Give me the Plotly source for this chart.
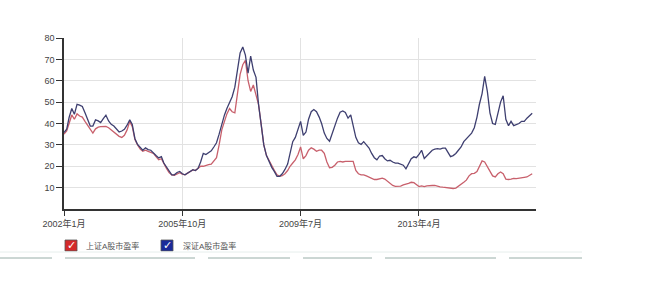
import pandas as pd
import plotly.graph_objects as go

# Shenzhen A-share PE (blue), monthly from 2002-01
sz_pe = [
    35.8, 37.3, 42.8, 47.0, 44.3, 49.0, 48.6, 48.0, 45.0, 42.0, 38.8, 38.8,
    41.7, 41.2, 40.4, 42.3, 43.9, 41.2, 39.6, 38.8, 37.3, 36.0, 36.5, 37.3,
    39.2, 41.7, 39.6, 32.9, 30.2, 28.6, 27.5, 28.6, 27.8, 27.5, 26.0, 25.0,
    23.9, 24.5, 21.5, 19.7, 17.6, 16.0, 16.0, 17.1, 17.6, 16.5, 16.0, 16.8,
    17.6, 18.4, 18.0, 19.0, 22.0, 26.0, 25.5, 26.3, 27.2, 29.0, 31.0, 35.0,
    40.0, 44.0, 47.0, 50.0, 52.5, 57.0, 66.0, 73.0, 75.8, 72.0, 63.5, 71.5,
    65.0, 61.6, 49.0, 39.0, 30.0, 25.0, 22.0, 19.5, 17.5, 15.3, 15.3, 16.5,
    18.5, 21.0, 26.0, 31.5, 33.5, 37.0, 41.0, 34.5, 36.0, 42.0, 45.5, 46.5,
    45.5, 43.0, 40.0, 35.5, 33.0, 31.7, 35.5, 39.0, 42.5, 45.3, 45.9, 45.2,
    42.5, 44.0, 39.0, 33.5, 31.0, 30.2, 31.5, 30.0, 28.5, 26.0, 24.0, 23.0,
    24.8, 25.0, 23.5, 22.5, 22.8, 22.0, 21.5, 21.5, 20.8, 20.5, 18.8, 21.0,
    23.5, 24.4, 24.0, 25.5, 27.5, 23.6, 25.0, 26.5, 27.5, 28.0, 28.2, 28.0,
    28.5, 28.5, 26.5, 24.5, 25.0, 26.0, 27.5, 29.0, 31.5, 33.0, 34.0, 35.5,
    38.0, 43.0, 49.0, 54.0, 62.0, 55.0, 45.0, 40.0, 39.6, 45.0, 50.0, 53.0,
    42.0, 39.0, 41.0, 39.0, 39.5, 40.0, 41.0, 41.0, 42.5, 43.5, 44.8,
]

# Shanghai A-share PE (red), monthly from 2002-01
sh_pe = [
    35.0, 36.5, 40.0, 44.0, 42.0, 44.5, 43.5, 43.0, 41.0, 39.0, 37.0, 35.5,
    37.5, 38.3, 38.5, 38.5, 38.6, 38.0, 37.0, 36.0, 35.0, 34.0, 33.5, 34.5,
    37.0, 41.0, 38.5, 32.5, 30.0, 28.0, 27.0, 27.5, 27.0, 26.5, 26.0, 24.5,
    23.0, 23.5, 21.0, 19.0, 17.0, 16.0, 15.8, 16.5, 17.0, 16.3, 16.0, 16.8,
    17.6, 18.3, 18.0, 19.0, 20.0, 20.0, 20.5, 20.8, 21.0, 22.5, 24.0, 30.0,
    37.0, 41.0, 44.5, 47.0, 45.5, 45.0, 55.0, 63.0, 67.5, 69.5, 60.0, 55.0,
    58.0, 53.0, 49.0, 39.6, 30.0, 25.0, 22.5, 20.0, 18.0, 16.0, 15.3, 15.6,
    16.5, 18.0, 20.0, 21.5, 23.0, 25.5, 29.0, 23.5, 25.0, 27.5, 28.6, 28.0,
    27.0, 27.5, 27.5, 26.0, 22.0, 19.3, 19.5, 20.5, 22.0, 22.3, 22.0, 22.3,
    22.3, 22.3, 22.3, 18.0, 16.5, 16.0, 16.0, 15.5, 15.0, 14.4, 13.8, 13.8,
    14.2, 14.4, 14.0, 13.0, 11.8, 11.0, 10.6, 10.6, 10.7, 11.3, 11.5, 12.0,
    12.5, 12.3, 11.5, 10.5, 10.8, 10.5, 10.8, 11.0, 11.0, 11.0, 10.6, 10.4,
    10.2, 10.0, 9.8, 9.7, 9.6, 9.8, 10.6, 11.5, 12.5, 13.5, 15.5, 16.5,
    16.7, 17.5, 20.0, 22.5, 22.0, 20.0, 17.5, 15.5, 15.0, 16.5, 17.3, 16.5,
    14.0, 13.8, 14.0, 14.3, 14.2, 14.5, 14.5, 14.8, 15.0, 15.8, 16.5,
]

dates = pd.date_range("2002-01-01", periods=len(sz_pe), freq="MS")
series_names = ["上证A股市盈率", "深证A股市盈率"]
x_tick_dates = ["2002-01-01", "2005-10-01", "2009-07-01", "2013-04-01"]
x_tick_text = ["2002年1月", "2005年10月", "2009年7月", "2013年4月"]
y_ticks = [10, 20, 30, 40, 50, 60, 70, 80]

RED = "#c8606c"
BLUE = "#3e3f70"
FONT = "Liberation Sans, Noto Sans CJK SC, sans-serif"

fig = go.Figure()
fig.add_trace(go.Scatter(x=dates, y=sh_pe, mode="lines", name=series_names[0],
                         line=dict(color=RED, width=1.3)))
fig.add_trace(go.Scatter(x=dates, y=sz_pe, mode="lines", name=series_names[1],
                         line=dict(color=BLUE, width=1.3)))

L, R, T, B = 64, 124, 38, 90
W, H = 660, 299
PW, PH = W - L - R, H - T - B

def px(x):
    return (x - L) / PW

def py(y):
    return (H - B - y) / PH

shapes = []
annotations = []
# legend boxes
for (x0, x1, col, label, tx) in [(65, 77, "#d42a2a", series_names[0], 84),
                                  (161, 173, "#1a2a9a", series_names[1], 181)]:
    shapes.append(dict(type="rect", xref="paper", yref="paper",
                       x0=px(x0), x1=px(x1), y0=py(251), y1=py(240),
                       fillcolor=col, line=dict(color="#555", width=0.8)))
    annotations.append(dict(xref="paper", yref="paper", x=px((x0 + x1) / 2), y=py(245.5),
                            text="✓", showarrow=False, xanchor="center", yanchor="middle",
                            font=dict(family="DejaVu Sans", size=11, color="white")))
    annotations.append(dict(xref="paper", yref="paper", x=px(tx), y=py(246),
                            text=label, showarrow=False, xanchor="left", yanchor="middle",
                            font=dict(family=FONT, size=8, color="#555")))

# decorative bottom separator lines
shapes.append(dict(type="line", xref="paper", yref="paper", x0=px(0), x1=px(582),
                   y0=py(252), y1=py(252), line=dict(color="#e6eeec", width=1)))
for a, b in [(0, 52), (65, 195), (208, 290), (303, 372), (385, 496), (509, 582)]:
    shapes.append(dict(type="line", xref="paper", yref="paper", x0=px(a), x1=px(b),
                       y0=py(258), y1=py(258), line=dict(color="#98aea8", width=1)))

fig.update_layout(
    width=W, height=H,
    margin=dict(l=L, r=R, t=T, b=B, pad=0),
    paper_bgcolor="white", plot_bgcolor="white",
    showlegend=False,
    font=dict(family=FONT, size=9, color="#444"),
    shapes=shapes, annotations=annotations,
    xaxis=dict(type="date", range=["2002-01-01", "2016-12-15"],
               tickvals=x_tick_dates, ticktext=x_tick_text,
               showgrid=True, gridcolor="#e2e2e2", gridwidth=1,
               showline=True, linecolor="#333", linewidth=1.5,
               ticks="outside", ticklen=5, tickcolor="#333",
               tickfont=dict(size=9, color="#444"), zeroline=False),
    yaxis=dict(range=[0, 80], tickvals=y_ticks,
               showgrid=True, gridcolor="#e2e2e2", gridwidth=1,
               showline=True, linecolor="#333", linewidth=1.5,
               ticks="outside", ticklen=6, tickcolor="#333",
               tickfont=dict(size=9, color="#444"), zeroline=False),
)

fig.write_html("out.html")
